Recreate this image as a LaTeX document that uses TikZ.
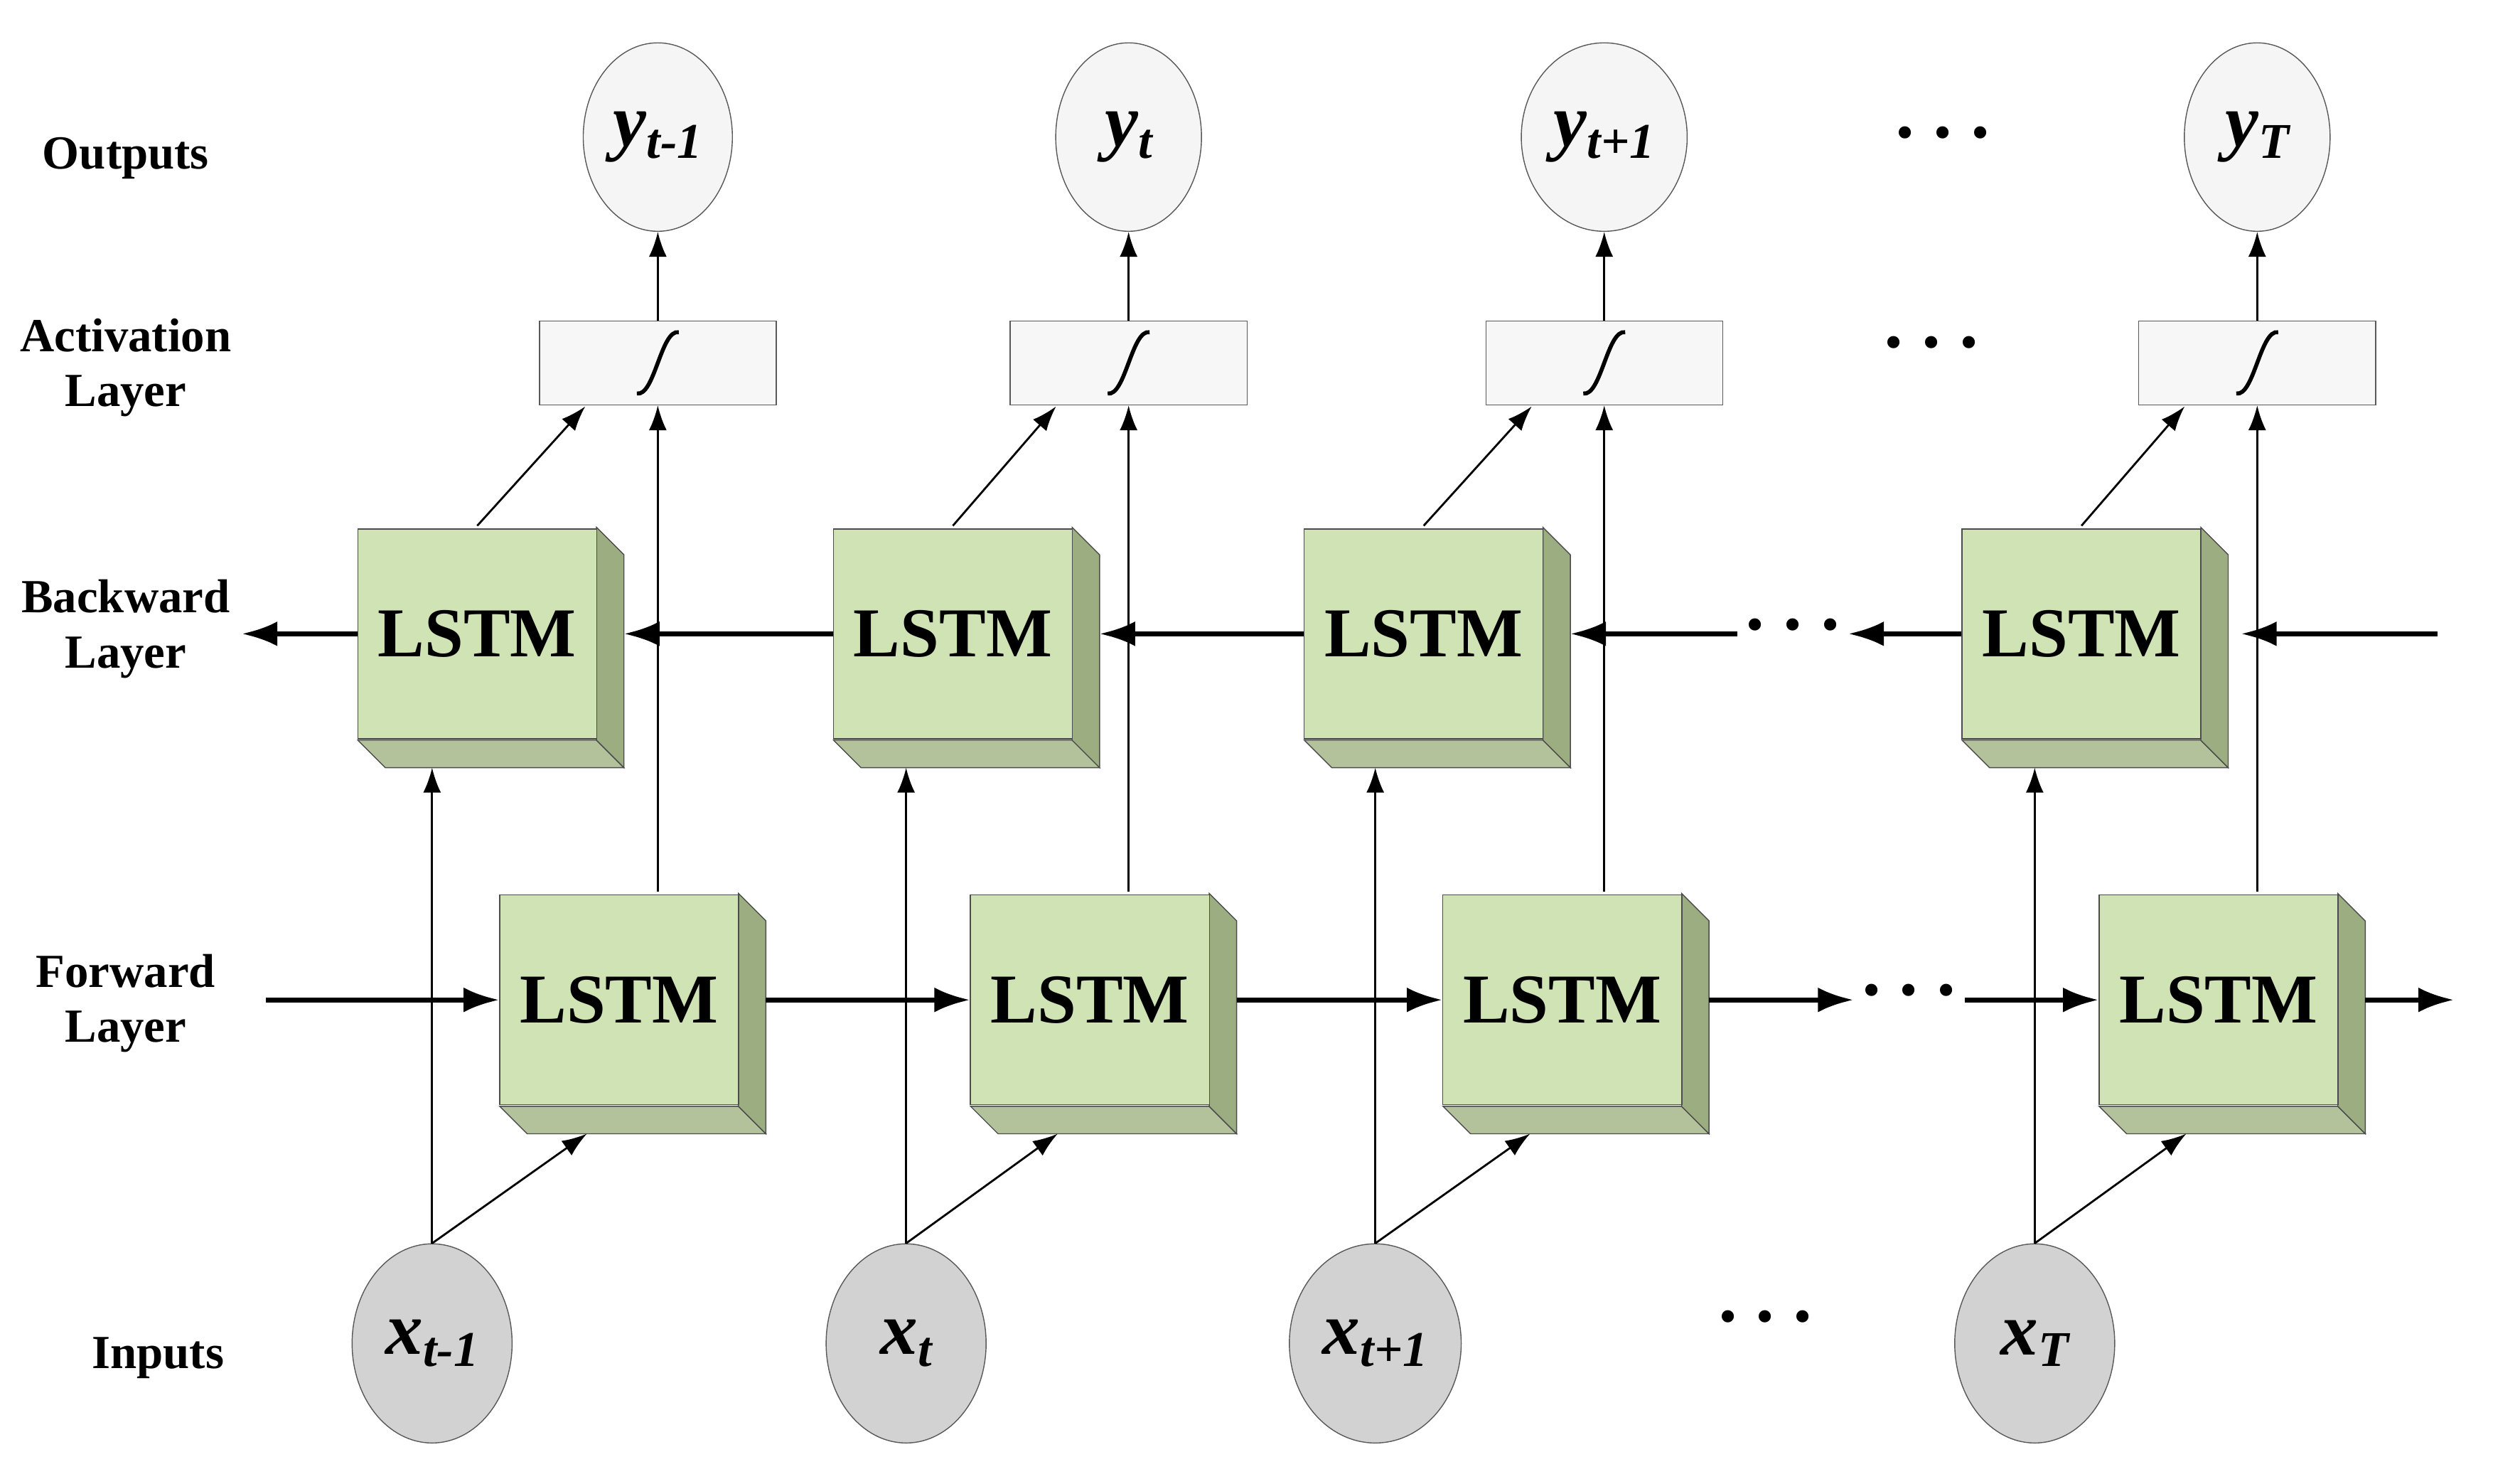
\documentclass[tikz,border=0pt]{standalone}
\usepackage{fontspec}
\setmainfont{Liberation Serif}
\usetikzlibrary{arrows.meta,shapes.geometric}

\definecolor{lstmfront}{HTML}{CFE3B4}
\definecolor{lstmside}{HTML}{9DAD82}
\definecolor{lstmbot}{HTML}{B4C29C}

\tikzset{
  lbl/.style={font=\bfseries\fontsize{19}{22}\selectfont, align=center},
  yout/.style={ellipse, draw=gray!70!black, fill=gray!8, minimum width=2.05cm, minimum height=2.65cm, font=\bfseries\itshape\fontsize{30}{30}\selectfont},
  xin/.style={ellipse, draw=gray!70!black, fill=gray!35, minimum width=2.25cm, minimum height=2.8cm, font=\bfseries\itshape\fontsize{30}{30}\selectfont},
  act/.style={rectangle, draw=gray!70!black, fill=gray!6, minimum width=3.33cm, minimum height=1.18cm, inner sep=0pt},
  lstm/.style={rectangle, draw=gray!60!black, fill=lstmfront, minimum width=3.36cm, minimum height=2.95cm, font=\bfseries\fontsize{28}{28}\selectfont},
  thin/.style={-{Latex[length=3.5mm,width=2.5mm]}, line width=0.8pt},
  thick/.style={-{Latex[length=5mm,width=3.5mm]}, line width=2pt},
  dots/.style={font=\bfseries\fontsize{30}{30}\selectfont, inner sep=2pt}
}
\newcommand{\sub}[1]{\raisebox{-0.35ex}{\fontsize{20}{20}\selectfont #1}}
\newcommand{\hdots}{\textperiodcentered\,\textperiodcentered\,\textperiodcentered}

\begin{document}
\begin{tikzpicture}[x=0.02268cm, y=-0.02268cm]
\useasboundingbox (0,0) rectangle (1563,917);

% left labels
\node[lbl] (lo) at (78,98) {Outputs};
\node[lbl] (la) at (78,228) {Activation\\Layer};
\node[lbl] (lb) at (78,390) {Backward\\Layer};
\node[lbl] (lf) at (78,622) {Forward\\Layer};
\node[lbl] (li) at (98,842) {Inputs};

% outputs and activation
\foreach \n/\x/\s in {1/408/{t-1}, 2/700/t, 3/995/{t+1}, 4/1400/T} {
  \node[yout] (y\n) at (\x,85) {y\sub{\s}};
  \node[act] (a\n) at (\x,225) {};
  \draw[line width=1.6pt] (\x-13,244) .. controls (\x-2,246) and (\x+2,204) .. (\x+13,206);
}

% LSTM blocks with 3D faces
\foreach \n/\bx/\fx/\ix/\s in {1/296/384/268/{t-1}, 2/591/676/562/t, 3/883/969/853/{t+1}, 4/1291/1376/1262/T} {
  \foreach \p/\xx/\yy in {b/\bx/393, f/\fx/620} {
    \fill[lstmbot, draw=gray!60!black] (\xx-74,\yy+66) -- ++(17,17) -- ++(148,0) -- ++(-17,-17) -- cycle;
    \fill[lstmside, draw=gray!60!black] (\xx+74,\yy-66) -- ++(17,17) -- ++(0,132) -- ++(-17,-17) -- cycle;
    \node[lstm] (\p\n) at (\xx,\yy) {LSTM};
  }
  \node[xin] (x\n) at (\ix,833) {x\sub{\s}};
}

% dots
\node[dots] (dy) at (1205,88) {\hdots};
\node[dots] (da) at (1198,218) {\hdots};
\node[dots] (db) at (1112,393) {\hdots};
\node[dots] (df) at (1184,620) {\hdots};
\node[dots] (dx) at (1095,822) {\hdots};

% vertical and diagonal connectors
\foreach \n/\bx/\fx/\ix/\ax in {1/296/384/268/408, 2/591/676/562/700, 3/883/969/853/995, 4/1291/1376/1262/1400} {
  \draw[thin] (x\n.north) -- (\ix,476);
  \draw[thin] (x\n.north) -- (\fx-20,703);
  \draw[thin] (\ax,553) -- (a\n.south);
  \draw[thin] (\bx,326) -- (\ax-45,252);
  \draw[thin] (a\n.north) -- (y\n.south);
}

% backward chain
\coordinate (bin) at (1512,393);
\coordinate (bout) at (150,393);
\draw[thick] (bin) -- (1390,393);
\draw[thick] (b4.west) -- (db.east);
\draw[thick] (db.west) -- (974,393);
\draw[thick] (b3.west) -- (682,393);
\draw[thick] (b2.west) -- (387,393);
\draw[thick] (b1.west) -- (bout);

% forward chain
\coordinate (fin) at (165,620);
\coordinate (fout) at (1522,620);
\draw[thick] (fin) -- (f1.west);
\draw[thick] (475,620) -- (f2.west);
\draw[thick] (767,620) -- (f3.west);
\draw[thick] (1060,620) -- (df.west);
\draw[thick] (df.east) -- (f4.west);
\draw[thick] (1467,620) -- (fout);
\end{tikzpicture}
\end{document}
